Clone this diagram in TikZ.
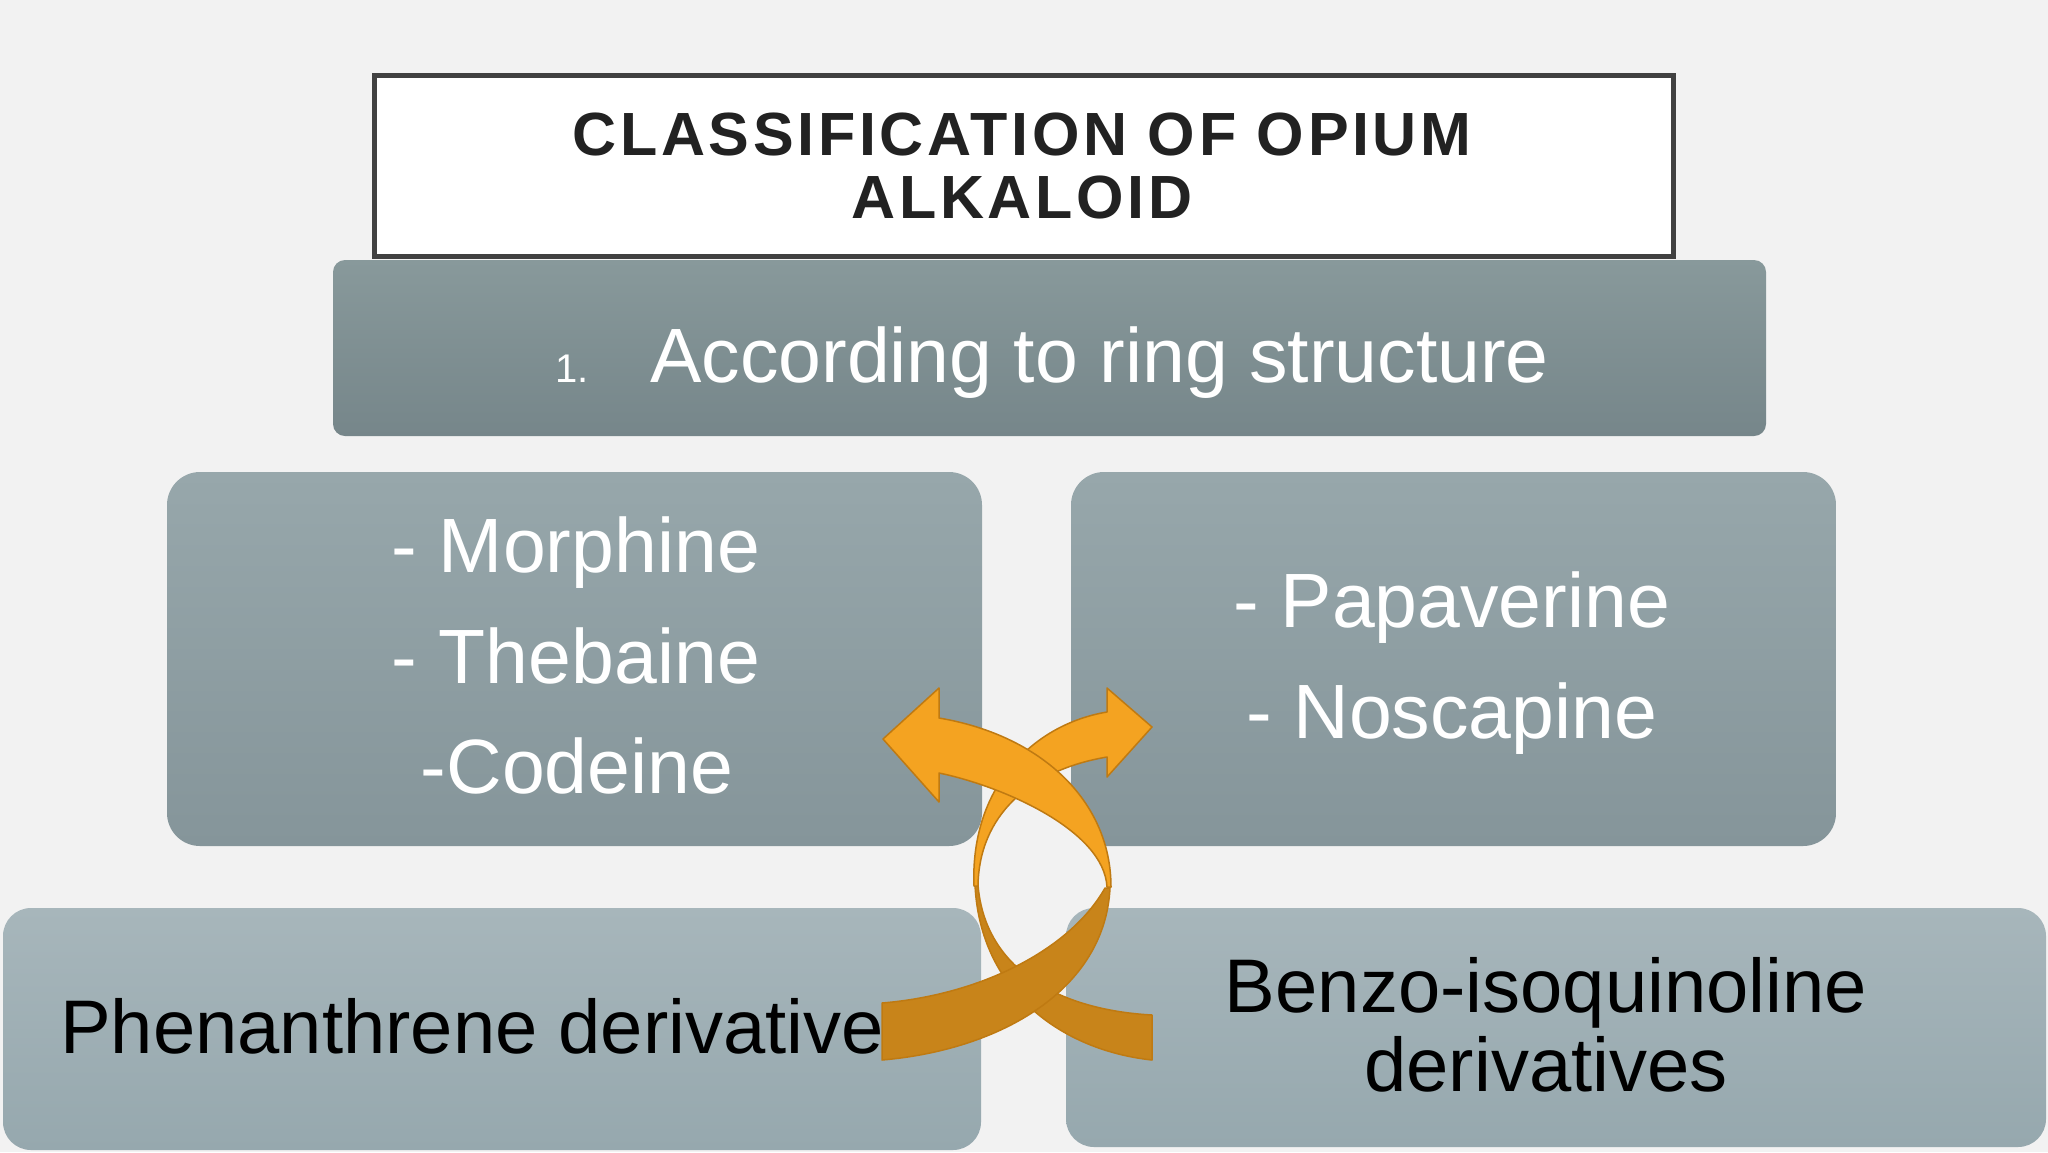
\documentclass[tikz,border=0pt]{standalone}
\usepackage{fontspec}
\setmainfont{Liberation Sans}
\newfontfamily\titlefont[LetterSpace=6]{Liberation Sans}
\definecolor{bg}{HTML}{F2F2F2}
\definecolor{ringtop}{HTML}{88999B}
\definecolor{ringbot}{HTML}{76868A}
\definecolor{midtop}{HTML}{97A7AB}
\definecolor{midbot}{HTML}{85959A}
\definecolor{lowtop}{HTML}{A7B6BB}
\definecolor{lowbot}{HTML}{96A8AE}
\definecolor{titleline}{HTML}{414141}
\definecolor{titletext}{HTML}{222222}
\definecolor{ribL}{HTML}{F4A321}
\definecolor{ribD}{HTML}{C8841A}
\definecolor{ribE}{HTML}{BF7A12}
\begin{document}
\begin{tikzpicture}[x=1pt,y=-1pt,
  panel/.style={inner sep=0pt, outer sep=0pt, draw=none},
  wtext/.style={inner sep=0pt, text=white, font=\fontsize{77}{80}\selectfont},
  btext/.style={inner sep=0pt, text=black, font=\fontsize{76}{78}\selectfont},
  ttext/.style={inner sep=0pt, text=titletext, font=\titlefont\bfseries\fontsize{61}{64}\selectfont},
  ribbonlight/.style={fill=ribL, draw=ribE, line width=1.5pt, line join=round},
  ribbondark/.style={fill=ribD, draw=ribE, line width=1.5pt, line join=round}]
\useasboundingbox (0,0) rectangle (2048,1152);
\fill[bg] (0,0) rectangle (2048,1152);

% title box
\node[panel, draw=titleline, line width=5pt, fill=white, minimum width=1299pt, minimum height=181pt] (title) at (1024,166) {};
\node[ttext, anchor=base] (t1) at (1022,155) {CLASSIFICATION OF OPIUM};
\node[ttext, anchor=base] (t2) at (1022,218) {ALKALOID};

% ring structure box
\node[panel, rounded corners=12pt, top color=ringtop, bottom color=ringbot, minimum width=1433pt, minimum height=176pt] (ring) at (1049.5,348) {};
\node[inner sep=0pt, text=white, font=\fontsize{40}{44}\selectfont, anchor=base west] (num) at (555,382) {1.};
\node[wtext, anchor=base west] (ringtxt) at (650,382) {According to ring structure};

% middle boxes
\node[panel, rounded corners=33pt, top color=midtop, bottom color=midbot, minimum width=815pt, minimum height=374pt] (left) at (574.5,659) {};
\node[panel, rounded corners=33pt, top color=midtop, bottom color=midbot, minimum width=765pt, minimum height=374pt] (right) at (1453.5,659) {};
\node[wtext, anchor=base] (morph) at (576,572) {- Morphine};
\node[wtext, anchor=base] (theb) at (576,683) {- Thebaine};
\node[wtext, anchor=base] (code) at (577,793) {-Codeine};
\node[wtext, anchor=base] (papa) at (1452,627) {- Papaverine};
\node[wtext, anchor=base] (nosc) at (1452,738) {- Noscapine};

% bottom boxes
\node[panel, rounded corners=28pt, top color=lowtop, bottom color=lowbot, minimum width=978pt, minimum height=242pt] (phen) at (492,1029) {};
\node[panel, rounded corners=28pt, top color=lowtop, bottom color=lowbot, minimum width=980pt, minimum height=239pt] (benz) at (1556,1027.5) {};
\node[btext, anchor=base west] (phentxt) at (60,1053) {Phenanthrene derivative};
\node[btext, anchor=base] (benz1) at (1546,1012) {Benzo-isoquinoline};
\node[btext, anchor=base] (benz2) at (1546,1091) {derivatives};

% crossed ribbon arrows
\path[ribbondark] (975,885) .. controls (980,990) and (1060,1050) .. (1152,1060)
  -- (1152,1015) .. controls (1060,1010) and (985,970) .. (978,885) -- cycle;
\path[ribbonlight] (1152,727) -- (1107,777) -- (1107,757)
  .. controls (1030,770) and (979,815) .. (978,886)
  -- (974,886) .. controls (970,790) and (1030,725) .. (1107,712)
  -- (1107,688) -- cycle;
\path[ribbondark] (1110,888) .. controls (1105,990) and (1000,1050) .. (882,1060)
  -- (882,1003) .. controls (980,995) and (1070,950) .. (1105,888) -- cycle;
\path[ribbonlight] (883,739) -- (939,688) -- (939,718)
  .. controls (1040,735) and (1111,800) .. (1111,887)
  -- (1107,887) .. controls (1104,830) and (1002,786) .. (939,773)
  -- (939,802) -- cycle;
\end{tikzpicture}
\end{document}
